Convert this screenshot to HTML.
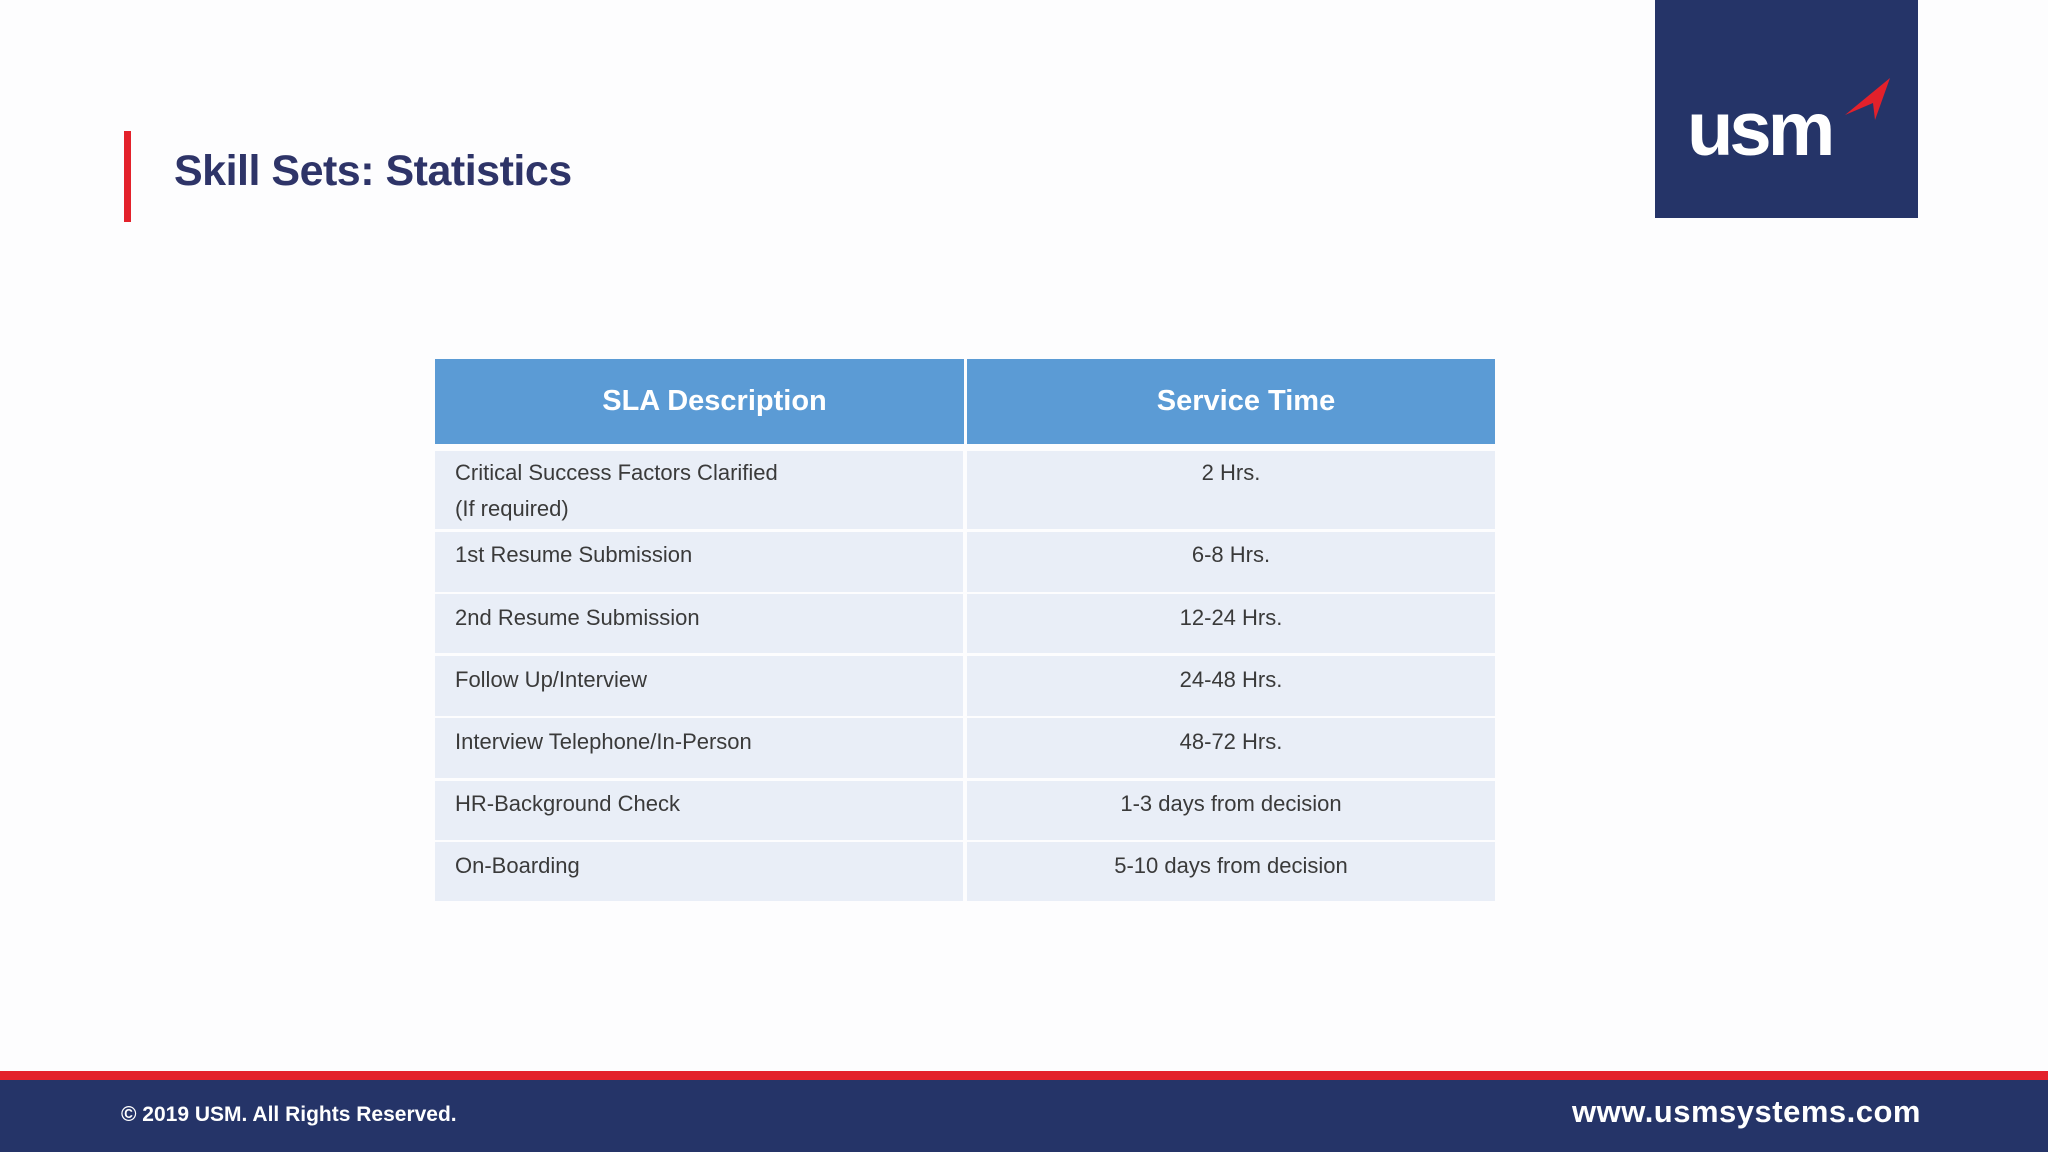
<!DOCTYPE html>
<html><head><meta charset="utf-8"><style>
*{margin:0;padding:0;box-sizing:border-box}
body{width:2048px;height:1152px;position:relative;background:#fdfdfe;font-family:"Liberation Sans",sans-serif;overflow:hidden}
.abs{position:absolute}
.row{position:absolute;background:#e9eef7;color:#3a3a3a;font-size:22px}
.c1{left:435px;width:528px;padding-left:20px}
.c2{left:967px;width:528px;text-align:center}
</style></head><body>
<div class="abs" style="left:124px;top:131px;width:7px;height:91px;background:#e3212b"></div>
<div class="abs" style="left:174px;top:147px;font-size:43px;font-weight:bold;color:#2e3468;letter-spacing:-0.5px">Skill Sets: Statistics</div>
<div class="abs" style="left:1655px;top:0;width:263px;height:218px;background:#253468">
<div class="abs" style="left:32px;top:92px;font-size:76px;font-weight:bold;color:#fff;letter-spacing:-4px;line-height:1">usm</div>
<svg class="abs" style="left:190px;top:75px" width="50" height="50"><path d="M0 40 L45 3 L30 45 L28 28 Z" fill="#e3212b"/></svg>
</div>
<div class="abs" style="left:435px;top:359px;width:529px;height:85px;background:#5b9bd5;color:#fff;font-size:29px;font-weight:bold;text-align:center;line-height:85px;padding-left:30px">SLA Description</div>
<div class="abs" style="left:967px;top:359px;width:528px;height:85px;background:#5b9bd5;color:#fff;font-size:29px;font-weight:bold;text-align:center;line-height:85px;padding-left:30px">Service Time</div>

<div class="row c1" style="top:451px;height:78px;padding-top:4px;line-height:36px">Critical Success Factors Clarified<br>(If required)</div>
<div class="row c2" style="top:451px;height:78px;padding-top:4px;line-height:36px">2 Hrs.</div>
<div class="row c1" style="top:532px;height:60px;padding-top:5px;line-height:36px">1st Resume Submission</div>
<div class="row c2" style="top:532px;height:60px;padding-top:5px;line-height:36px">6-8 Hrs.</div>
<div class="row c1" style="top:594px;height:59px;padding-top:6px;line-height:36px">2nd Resume Submission</div>
<div class="row c2" style="top:594px;height:59px;padding-top:6px;line-height:36px">12-24 Hrs.</div>
<div class="row c1" style="top:656px;height:60px;padding-top:6px;line-height:36px">Follow Up/Interview</div>
<div class="row c2" style="top:656px;height:60px;padding-top:6px;line-height:36px">24-48 Hrs.</div>
<div class="row c1" style="top:718px;height:60px;padding-top:6px;line-height:36px">Interview Telephone/In-Person</div>
<div class="row c2" style="top:718px;height:60px;padding-top:6px;line-height:36px">48-72 Hrs.</div>
<div class="row c1" style="top:781px;height:59px;padding-top:5px;line-height:36px">HR-Background Check</div>
<div class="row c2" style="top:781px;height:59px;padding-top:5px;line-height:36px">1-3 days from decision</div>
<div class="row c1" style="top:842px;height:59px;padding-top:6px;line-height:36px">On-Boarding</div>
<div class="row c2" style="top:842px;height:59px;padding-top:6px;line-height:36px">5-10 days from decision</div>

<div class="abs" style="left:0;top:1071px;width:2048px;height:9px;background:#e3212b"></div>
<div class="abs" style="left:0;top:1080px;width:2048px;height:72px;background:#253468"></div>
<div class="abs" style="left:121px;top:1103px;font-size:21px;font-weight:bold;color:#fff">© 2019 USM. All Rights Reserved.</div>
<div class="abs" style="right:127px;top:1094px;font-size:31px;font-weight:bold;color:#fff;letter-spacing:0.5px">www.usmsystems.com</div>
</body></html>
